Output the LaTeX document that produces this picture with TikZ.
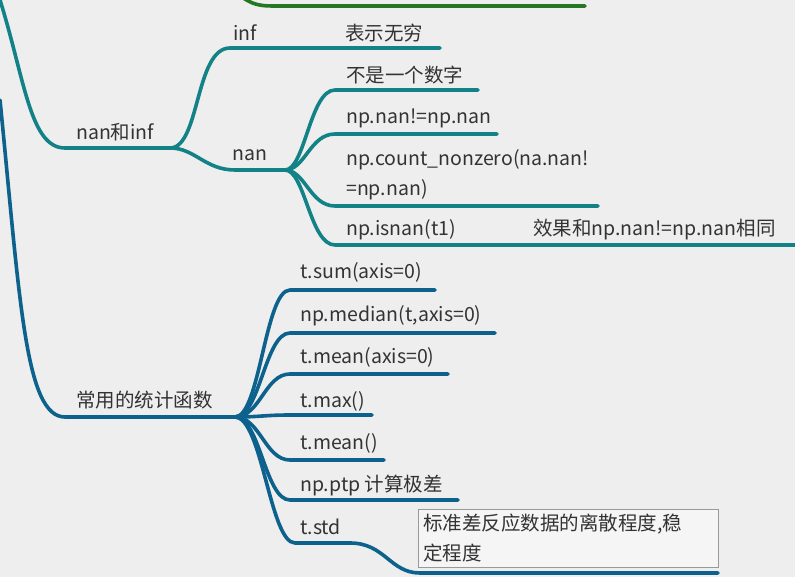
\documentclass[tikz,border=0pt]{standalone}
\usepackage{fontspec}
\setmainfont{Noto Sans CJK SC}
\usetikzlibrary{positioning}
\definecolor{bgc}{RGB}{238,238,238}
\definecolor{tealc}{RGB}{18,130,135}
\definecolor{bluec}{RGB}{12,98,140}
\definecolor{greenc}{RGB}{36,120,36}
\begin{document}
\begin{tikzpicture}[x=1pt,y=-1pt,
    lbl/.style={anchor=west, inner sep=0pt, font=\fontsize{19.5}{24}\selectfont, text=black!80},
    tline/.style={draw=tealc, line width=3.6pt, line cap=round},
    bline/.style={draw=bluec, line width=3.6pt, line cap=round},
    gline/.style={draw=greenc, line width=3.6pt, line cap=round},
    note/.style={draw=black!40, fill=white!96!black, anchor=north west, inner sep=5pt, text width=290pt, align=left, font=\fontsize{19.5}{30}\selectfont, text=black!80}
]
\fill[bgc] (0,0) rectangle (795,577);
\useasboundingbox (0,0) rectangle (795,577);

% green branch at top
\draw[gline] (230,-12) .. controls (250,4) and (255,6) .. (275,6) -- (585,6);

% teal main branch
\coordinate (nij) at (170,148);
\draw[tline] (0,0) .. controls (25,80) and (30,148) .. (65,148) -- (nij);
\node[lbl] (naninf) at (76,132) {nan和inf};

% inf
\coordinate (infj) at (230,48);
\draw[tline] (nij) .. controls (200,148) and (195,48) .. (infj) -- (440,48);
\node[lbl] (inf) at (233,33) {inf};
\node[lbl] (inftxt) at (345,33) {表示无穷};

% nan
\coordinate (nanj) at (285,170);
\draw[tline] (nij) .. controls (195,148) and (205,170) .. (235,170) -- (nanj);
\node[lbl] (nan) at (232,155) {nan};
\foreach \y/\e in {90/478, 134/497, 206/598, 245/795}
  \draw[tline] (nanj) .. controls (305,170) and (310,\y) .. (335,\y) -- (\e,\y);
\node[lbl] (notnum) at (346,75) {不是一个数字};
\node[lbl] (neq) at (346,118) {np.nan!=np.nan};
\node[lbl] (cnt1) at (346,160) {np.count\_nonzero(na.nan!};
\node[lbl] (cnt2) at (346,190) {=np.nan)};
\node[lbl] (isnan) at (346,230) {np.isnan(t1)};
\node[lbl] (same) at (533,230) {效果和np.nan!=np.nan相同};

% blue main branch
\coordinate (stj) at (235,417);
\draw[bline] (0,100) .. controls (20,300) and (25,417) .. (65,417) -- (stj);
\node[lbl] (stat) at (76,400) {常用的统计函数};
\foreach \y/\e in {290/435, 333/495, 374/448, 415/372, 460/384, 500/458}
  \draw[bline] (stj) .. controls (260,417) and (265,\y) .. (290,\y) -- (\e,\y);
\draw[bline] (stj) .. controls (262,417) and (270,543) .. (295,543) -- (350,543)
  .. controls (385,543) and (390,573) .. (420,573) -- (718,573);
\node[lbl] (sum) at (300,272) {t.sum(axis=0)};
\node[lbl] (median) at (300,316) {np.median(t,axis=0)};
\node[lbl] (mean0) at (300,357) {t.mean(axis=0)};
\node[lbl] (max) at (300,401) {t.max()};
\node[lbl] (mean) at (300,443) {t.mean()};
\node[lbl] (ptp) at (300,485) {np.ptp 计算极差};
\node[lbl] (std) at (300,527) {t.std};
\node[note] (stdnote) at (418,509) {标准差反应数据的离散程度,稳\\定程度};
\end{tikzpicture}
\end{document}
